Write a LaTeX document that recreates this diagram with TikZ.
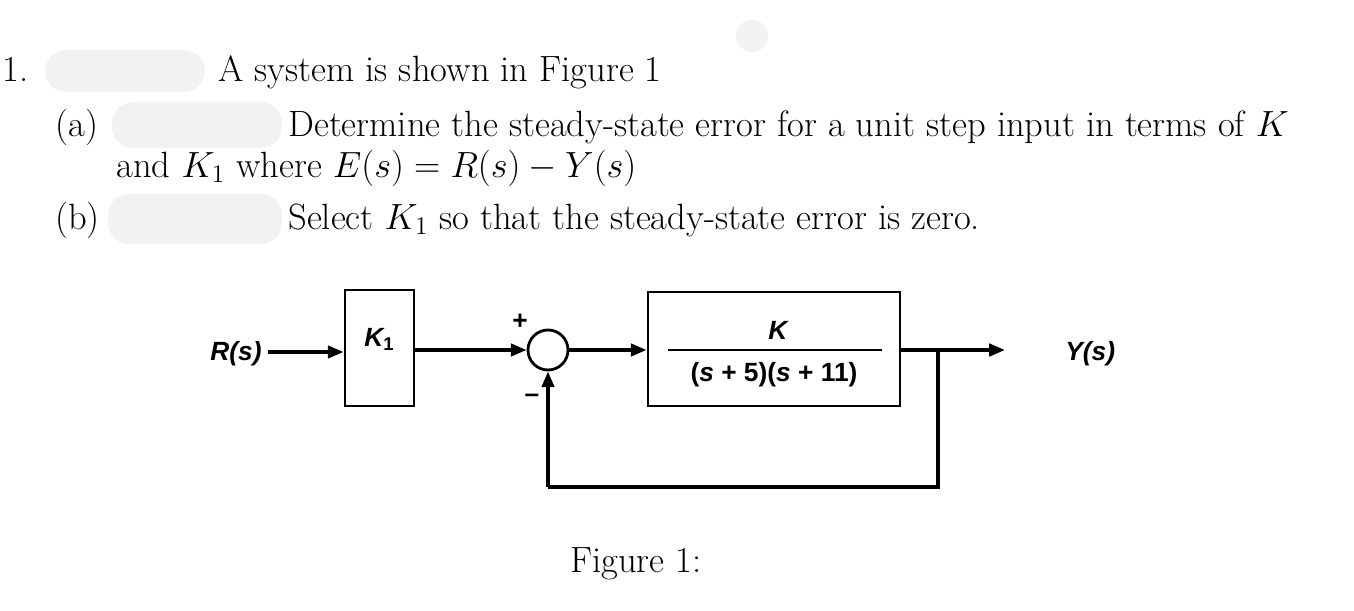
\documentclass[tikz,border=0pt]{standalone}
\usepackage{fontspec}
\newfontfamily\dsf{Liberation Sans}
\usetikzlibrary{arrows.meta}
\begin{document}
\begin{tikzpicture}[x=0.02cm,y=-0.02cm,
  txt/.style={font=\fontsize{20.8}{24}\selectfont,inner sep=0,anchor=base west},
  dtxt/.style={font=\dsf\fontsize{15}{18}\selectfont\bfseries,inner sep=0},
  blk/.style={draw,line width=1.6pt},
  sig/.style={line width=2pt,-{Triangle[length=9pt,width=7pt]}},
  ln/.style={line width=2pt},
  blob/.style={fill=black!5,rounded corners=12pt,draw=none}]
\useasboundingbox (0,0) rectangle (1354,611);
\fill[blob] (45,50) rectangle (205,92);
\fill[blob] (112,102) rectangle (282,148);
\fill[blob] (108,194) rectangle (282,244);
\fill[black!5] (752,36) circle (16);
\node[txt] (n1) at (2,82) {1.};
\node[txt] (t1) at (218,82) {A system is shown in Figure 1};
\node[txt] (pa) at (55,137) {(a)};
\node[txt] (t2) at (288,137) {Determine the steady-state error for a unit step input in terms of $K$};
\node[txt] (t3) at (116,177) {and $K_1$ where $E(s)=R(s)-Y(s)$};
\node[txt] (pb) at (55,229) {(b)};
\node[txt] (t4) at (288,229) {Select $K_1$ so that the steady-state error is zero.};
\node[txt] (fig) at (570,572) {Figure 1:};
% diagram
\node[dtxt,anchor=east] (R) at (262,354) {\itshape R(s)};
\coordinate (rs) at (268,352);
\node[blk,minimum width=69*0.02cm,minimum height=116*0.02cm] (K1) at (379.5,348) {};
\node[dtxt] at (K1) [yshift=5pt] {\itshape K\textsubscript{\upshape 1}};
\node[draw,circle,line width=1.6pt,minimum size=40*0.02cm,inner sep=0] (S) at (548,350) {};
\node[blk,minimum width=252*0.02cm,minimum height=114*0.02cm] (G) at (774,349) {};
\node[dtxt] (Kn) at (778,330) {\itshape K};
\draw[line width=1.2pt] (668,350) -- (882,350);
\node[dtxt] (den) at (774,375) {(\textit{s} + 5)(\textit{s} + 11)};
\node[dtxt,anchor=west] (Y) at (1065,354) {\itshape Y(s)};
\node[dtxt] at (520,322) {+};
\node[dtxt] at (532,398) {–};
\coordinate (br) at (938,350);
\coordinate (bd) at (938,487);
\coordinate (bl) at (548,487);
\coordinate (ye) at (1005,350);
\draw[sig] (rs) -- (rs -| K1.west);
\draw[sig] (S.west -| K1.east) -- (S.west);
\draw[sig] (S.east) -- (S.east -| G.west);
\draw[sig] (S.east -| G.east) -- (ye);
\draw[ln] (br) -- (bd) -- (bl);
\draw[sig] (bl) -- (S.south);
\end{tikzpicture}
\end{document}
